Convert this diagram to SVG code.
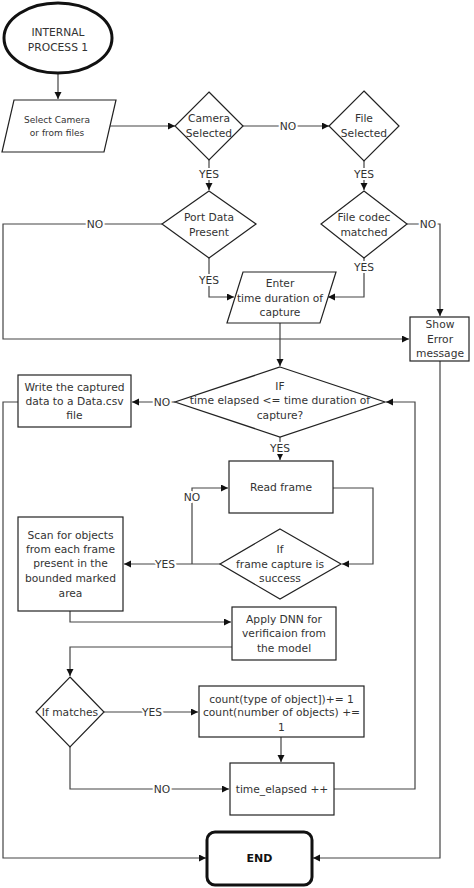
<svg xmlns="http://www.w3.org/2000/svg" width="474" height="888" viewBox="0 0 474 888">
<defs>
<marker id="ah" markerUnits="userSpaceOnUse" markerWidth="8" markerHeight="8" refX="7" refY="3.5" orient="auto">
<path d="M0,0 L7,3.5 L0,7 z" fill="#111"/>
</marker>
<style>
.s{fill:#fff;stroke:#222;stroke-width:1.2}
.b{fill:#fff;stroke:#111;stroke-width:3}
.t{font-family:"DejaVu Sans","Liberation Sans",sans-serif;font-size:10.7px;fill:#333;text-anchor:middle;dominant-baseline:central}
.c{fill:none;stroke:#444;stroke-width:1.2;marker-end:url(#ah)}
.l{font-family:"DejaVu Sans","Liberation Sans",sans-serif;font-size:10.7px;fill:#333;text-anchor:middle;dominant-baseline:central;stroke:#fff;stroke-width:4;paint-order:stroke}
</style>
</defs>
<rect width="474" height="888" fill="#fff"/>
<g id="connectors">
<path class="c" d="M58,73 V99"/>
<path class="c" d="M110,126 H175"/>
<path class="c" d="M243,126 H329"/>
<path class="c" d="M209,160 V190"/>
<path class="c" d="M364,161 V190"/>
<path class="c" d="M162,224 H3 V339 H409"/>
<path class="c" d="M407,224 H440 V316"/>
<path class="c" d="M209,258 V297 H234"/>
<path class="c" d="M364,258 V297 H328"/>
<path class="c" d="M280,323 V366"/>
<path class="c" d="M440,361 V858 H313"/>
<path class="c" d="M175,402 H132"/>
<path class="c" d="M18,402 H3 V858 H206"/>
<path class="c" d="M280,437 V460"/>
<path class="c" d="M333,488 H373 V564 H342"/>
<path class="c" d="M220,564 H124"/>
<path class="c" d="M192,564 V488 H228"/>
<path class="c" d="M70,611 V622 H231"/>
<path class="c" d="M232,647 H70 V676"/>
<path class="c" d="M104,712 H198"/>
<path class="c" d="M281,737 V762"/>
<path class="c" d="M70,747 V789 H229"/>
<path class="c" d="M334,789 H415 V402 H386"/>
<text class="l" x="288" y="126">NO</text>
<text class="l" x="209" y="174">YES</text>
<text class="l" x="364" y="174">YES</text>
<text class="l" x="95" y="224">NO</text>
<text class="l" x="428" y="224">NO</text>
<text class="l" x="209" y="280">YES</text>
<text class="l" x="364" y="267">YES</text>
<text class="l" x="162" y="402">NO</text>
<text class="l" x="280" y="448">YES</text>
<text class="l" x="165" y="564">YES</text>
<text class="l" x="192" y="497">NO</text>
<text class="l" x="152" y="712">YES</text>
<text class="l" x="162" y="789">NO</text>
</g>
<g id="start">
<ellipse class="b" cx="58" cy="38" rx="54" ry="35"/>
<text class="t" x="58" y="32">INTERNAL</text>
<text class="t" x="58" y="47">PROCESS 1</text>
</g>
<g id="select">
<polygon class="s" points="14,100 116,100 104,152 2,152"/>
<text class="t" x="57" y="120" style="font-size:9px">Select Camera</text>
<text class="t" x="57" y="133" style="font-size:9px">or from files</text>
</g>
<g id="camera">
<polygon class="s" points="209,92 243,126 209,160 175,126"/>
<text class="t" x="209" y="118">Camera</text>
<text class="t" x="209" y="133">Selected</text>
</g>
<g id="file">
<polygon class="s" points="364,91 399,126 364,161 329,126"/>
<text class="t" x="364" y="118">File</text>
<text class="t" x="364" y="133">Selected</text>
</g>
<g id="port">
<polygon class="s" points="209,191 256,224 209,258 162,224"/>
<text class="t" x="209" y="217">Port Data</text>
<text class="t" x="209" y="232">Present</text>
</g>
<g id="codec">
<polygon class="s" points="364,191 407,224 364,258 321,224"/>
<text class="t" x="364" y="217">File codec</text>
<text class="t" x="364" y="232">matched</text>
</g>
<g id="enter">
<polygon class="s" points="243,272 336,272 320,323 227,323"/>
<text class="t" x="280" y="283">Enter</text>
<text class="t" x="280" y="298">time duration of</text>
<text class="t" x="280" y="312">capture</text>
</g>
<g id="error">
<rect class="s" x="410" y="317" width="59" height="44"/>
<text class="t" x="440" y="324">Show</text>
<text class="t" x="440" y="339">Error</text>
<text class="t" x="440" y="353">message</text>
</g>
<g id="ifelapsed">
<polygon class="s" points="280,367 385,402 280,437 175,402"/>
<text class="t" x="280" y="386">IF</text>
<text class="t" x="280" y="400">time elapsed &lt;= time duration of</text>
<text class="t" x="280" y="415">capture?</text>
</g>
<g id="write">
<rect class="s" x="18" y="375" width="113" height="52"/>
<text class="t" x="74.5" y="387">Write the captured</text>
<text class="t" x="74.5" y="401">data to a Data.csv</text>
<text class="t" x="74.5" y="415">file</text>
</g>
<g id="read">
<rect class="s" x="229" y="461" width="104" height="52"/>
<text class="t" x="281" y="487">Read frame</text>
</g>
<g id="ifcapture">
<polygon class="s" points="280,529 341,564 280,599 220,564"/>
<text class="t" x="280" y="549">If</text>
<text class="t" x="280" y="564">frame capture is</text>
<text class="t" x="280" y="578">success</text>
</g>
<g id="scan">
<rect class="s" x="18" y="517" width="105" height="94"/>
<text class="t" x="70.5" y="535">Scan for objects</text>
<text class="t" x="70.5" y="549">from each frame</text>
<text class="t" x="70.5" y="563">present in the</text>
<text class="t" x="70.5" y="578">bounded marked</text>
<text class="t" x="70.5" y="593">area</text>
</g>
<g id="dnn">
<rect class="s" x="232" y="607" width="104" height="53"/>
<text class="t" x="284" y="619">Apply DNN for</text>
<text class="t" x="284" y="633">verificaion from</text>
<text class="t" x="284" y="648">the model</text>
</g>
<g id="matches">
<polygon class="s" points="70,677 104,712 70,747 36,712"/>
<text class="t" x="70" y="712">If matches</text>
</g>
<g id="count">
<rect class="s" x="199" y="686" width="165" height="51"/>
<text class="t" x="281.5" y="699">count(type of object])+= 1</text>
<text class="t" x="281.5" y="712">count(number of objects) +=</text>
<text class="t" x="281.5" y="727">1</text>
</g>
<g id="elapsed">
<rect class="s" x="230" y="763" width="104" height="52"/>
<text class="t" x="282" y="789">time_elapsed ++</text>
</g>
<g id="end">
<rect class="b" x="207" y="832" width="105" height="53" rx="8"/>
<text class="t" x="259.5" y="858" style="font-weight:bold;font-size:11px;fill:#111">END</text>
</g>
</svg>
